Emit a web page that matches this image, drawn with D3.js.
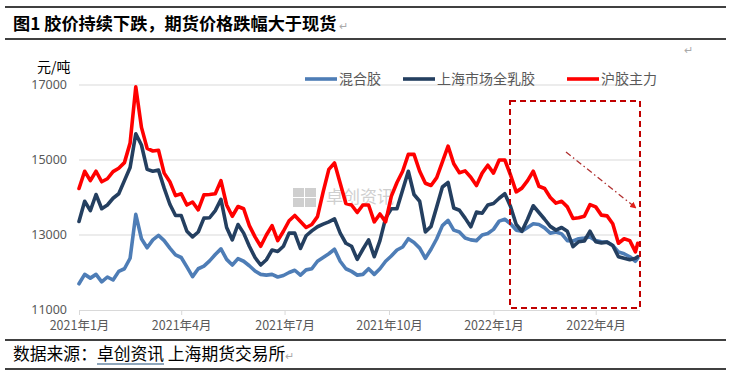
<!DOCTYPE html>
<html><head><meta charset="utf-8">
<script src="https://cdn.jsdelivr.net/npm/d3@7"></script>
<style>
html,body{margin:0;padding:0;background:#fff;}
svg{display:block;}
</style></head>
<body>
<script>
const titleText = "图1 胶价持续下跌，期货价格跌幅大于现货";
const sourceLabel = "数据来源：";
const sourceLink = "卓创资讯";
const sourceRest = " 上海期货交易所";
const unitLabel = "元/吨";
const seriesNames = ["混合胶", "上海市场全乳胶", "沪胶主力"];
const yTicks = [11000, 13000, 15000, 17000];
const xTickDates = ["2021-01-01","2021-04-01","2021-07-01","2021-10-01","2022-01-01","2022-04-01"];
const xTickLabels = ["2021年1月","2021年4月","2021年7月","2021年10月","2022年1月","2022年4月"];

const dates = [
"2021-01-01","2021-01-06","2021-01-11","2021-01-16","2021-01-21","2021-01-26","2021-01-31","2021-02-05","2021-02-10","2021-02-15",
"2021-02-20","2021-02-25","2021-03-02","2021-03-07","2021-03-12","2021-03-17","2021-03-22","2021-03-27","2021-04-01","2021-04-06",
"2021-04-11","2021-04-16","2021-04-21","2021-04-26","2021-05-01","2021-05-06","2021-05-11","2021-05-16","2021-05-21","2021-05-26",
"2021-05-31","2021-06-05","2021-06-10","2021-06-15","2021-06-20","2021-06-25","2021-06-30","2021-07-05","2021-07-10","2021-07-15",
"2021-07-20","2021-07-25","2021-07-30","2021-08-04","2021-08-09","2021-08-14","2021-08-19","2021-08-24","2021-08-29","2021-09-03",
"2021-09-08","2021-09-13","2021-09-18","2021-09-23","2021-09-28","2021-10-03","2021-10-08","2021-10-13","2021-10-18","2021-10-23",
"2021-10-28","2021-11-02","2021-11-07","2021-11-12","2021-11-17","2021-11-22","2021-11-27","2021-12-02","2021-12-07","2021-12-12",
"2021-12-17","2021-12-22","2021-12-27","2022-01-01","2022-01-06","2022-01-11","2022-01-16","2022-01-21","2022-01-26","2022-01-31",
"2022-02-05","2022-02-10","2022-02-15","2022-02-20","2022-02-25","2022-03-02","2022-03-07","2022-03-12","2022-03-17","2022-03-22",
"2022-03-27","2022-04-01","2022-04-06","2022-04-11","2022-04-16","2022-04-21","2022-04-26","2022-05-01","2022-05-06","2022-05-08"];

const mixRubber = [
11700,11950,11850,11950,11750,11880,11800,12030,12100,12380,
13550,12900,12660,12870,12990,12850,12650,12470,12400,12150,
11890,12100,12170,12310,12480,12630,12350,12200,12370,12300,
12180,12040,11950,11930,11950,11880,11920,12000,12060,11930,
12070,12100,12300,12400,12500,12620,12300,12100,12030,11930,
11950,12100,11950,12100,12300,12440,12600,12680,12900,12800,
12650,12380,12620,12900,13250,13390,13130,13080,12920,12870,
12850,13000,13040,13150,13370,13420,13300,13130,13100,13200,
13300,13280,13190,13050,13080,13030,12850,12840,12900,12920,
12950,12850,12820,12810,12720,12550,12500,12420,12300,12380];

const shWholeLatex = [
13360,13900,13650,14080,13700,13800,13980,14100,14450,14800,
15700,15400,14750,14700,14730,14250,13820,13520,13520,13100,
12950,13080,13450,13460,13650,13950,13200,12870,13280,13050,
12700,12400,12200,12340,12600,12560,12700,13050,13050,12640,
12980,13110,13220,13290,13350,13430,13050,12780,12700,12350,
12620,12870,12420,12850,13450,13700,13700,14200,14700,14080,
13900,13080,13230,13750,14280,14400,13720,13660,13450,13220,
13610,13580,13800,13840,13980,14100,13760,13280,13100,13420,
13780,13600,13420,13230,13130,13200,13100,12690,12820,12840,
13100,12820,12790,12810,12720,12420,12380,12340,12380,12420];

const shfeMain = [
14240,14700,14450,14700,14420,14500,14690,14780,14930,15450,
16950,15870,15310,15240,15260,14650,14420,14050,14100,13800,
13880,13670,14070,14080,14100,14450,13800,13500,13760,13700,
13250,12950,12700,13000,13250,12850,13100,13380,13520,13360,
13200,13280,13490,14150,14750,14920,14380,13840,13800,13600,
13800,13800,13350,13560,13350,14030,14400,14700,15150,15150,
14700,14380,14320,14530,14950,15370,14900,14660,14710,14540,
14320,14650,14860,14650,15000,15000,14600,14150,14250,14450,
14700,14300,14240,14000,13850,13900,13750,13440,13460,13500,
13810,13750,13530,13510,13300,12780,12900,12850,12550,12780];

const colors = ["#4E7DB6", "#243F60", "#FF0000"];
const W = 733, H = 375;
const parse = d3.utcParse("%Y-%m-%d");
const cjk = "'Noto Sans CJK SC', 'Noto Sans', sans-serif";
const num = "'Noto Sans', 'Liberation Sans', sans-serif";

const svg = d3.select("body").append("svg").attr("width", W).attr("height", H);

// Frame lines (document style)
[7, 39, 340, 369].forEach(yy => {
  svg.append("line").attr("x1", 5).attr("x2", 726).attr("y1", yy).attr("y2", yy)
    .attr("stroke", "#000").attr("stroke-width", 1.3);
});

// Title
svg.append("text").attr("x", 13).attr("y", 30).text(titleText)
  .attr("font-family", cjk).attr("font-weight", 700).attr("font-size", 17.2).attr("fill", "#000");
svg.append("text").attr("x", 339).attr("y", 30).text("↵")
  .attr("font-family", cjk).attr("font-size", 11).attr("fill", "#aaa");
svg.append("text").attr("x", 684).attr("y", 54).text("↵")
  .attr("font-family", cjk).attr("font-size", 11).attr("fill", "#aaa");

// Footer
const ft = svg.append("text").attr("x", 13).attr("y", 360)
  .attr("font-family", cjk).attr("font-size", 16.8).attr("fill", "#000");
ft.append("tspan").text(sourceLabel);
ft.append("tspan").text(sourceLink);
ft.append("tspan").text(sourceRest);
ft.append("tspan").text("↵").attr("font-size", 11).attr("fill", "#aaa");
svg.append("line").attr("x1", 97).attr("x2", 164).attr("y1", 364).attr("y2", 364)
  .attr("stroke", "#1F4E79").attr("stroke-width", 1);

// Scales
const x = d3.scaleUtc().domain([parse("2021-01-01"), parse("2022-05-10")]).range([79, 640]);
const y = d3.scaleLinear().domain([11000, 17000]).range([310, 85]);

// Gridlines
svg.append("g").selectAll("line").data(yTicks.slice(1)).join("line")
  .attr("x1", 79).attr("x2", 640).attr("y1", d => y(d)).attr("y2", d => y(d))
  .attr("stroke", "#D9D9D9").attr("stroke-width", 1);

// Y labels
svg.append("g").selectAll("text").data(yTicks).join("text")
  .attr("x", 67).attr("y", d => y(d) + 4).attr("text-anchor", "end")
  .attr("font-family", num).attr("font-size", 12.5).attr("fill", "#595959").text(d => d);

svg.append("text").attr("x", 37).attr("y", 72).text(unitLabel)
  .attr("font-family", cjk).attr("font-size", 14).attr("fill", "#000");

// X axis
const xAxis = d3.axisBottom(x).tickValues(xTickDates.map(parse))
  .tickFormat((d, i) => xTickLabels[i]).tickSize(5).tickPadding(6);
const gx = svg.append("g").attr("transform", "translate(0,310)").call(xAxis);
gx.select(".domain").attr("stroke", "#D9D9D9").attr("d", "M79,0.5H640");
gx.selectAll(".tick line").attr("stroke", "#D9D9D9");
gx.selectAll(".tick text").attr("font-family", cjk).attr("font-size", 12.5).attr("fill", "#595959");

// Watermark
const wm = svg.append("g").attr("opacity", 0.5);
[[293,188],[305,188],[293,198],[305,198]].forEach(([a,b]) => {
  wm.append("rect").attr("x", a).attr("y", b).attr("width", 11).attr("height", 9).attr("fill", "#a0a0a0");
});
wm.append("text").attr("x", 326).attr("y", 203).text("卓创资讯")
  .attr("font-family", cjk).attr("font-size", 17).attr("fill", "#a0a0a0");

// Lines
const seriesData = [mixRubber, shWholeLatex, shfeMain];
const line = d3.line().x(d => x(d.date)).y(d => y(d.v)).curve(d3.curveLinear);
seriesData.forEach((vals, i) => {
  const pts = vals.map((v, j) => ({date: parse(dates[j]), v}));
  svg.append("path").datum(pts).attr("d", line)
    .attr("fill", "none").attr("stroke", colors[i]).attr("stroke-width", 3.6)
    .attr("stroke-linejoin", "round").attr("stroke-linecap", "round");
});

// Legend
const legendX = [305, 403, 567];
seriesNames.forEach((name, i) => {
  const g = svg.append("g");
  g.append("line").attr("x1", legendX[i]).attr("x2", legendX[i] + 32).attr("y1", 79).attr("y2", 79)
    .attr("stroke", colors[i]).attr("stroke-width", 3.6);
  g.append("text").attr("x", legendX[i] + 34).attr("y", 84).text(name)
    .attr("font-family", cjk).attr("font-size", 14).attr("fill", "#595959");
});

// Highlight box
svg.append("rect").attr("x", 510).attr("y", 101).attr("width", 130).attr("height", 207)
  .attr("fill", "none").attr("stroke", "#C00000").attr("stroke-width", 2)
  .attr("stroke-dasharray", "6,4");

// Arrow
const defs = svg.append("defs");
defs.append("marker").attr("id", "ah").attr("viewBox", "0 0 10 10").attr("refX", 9).attr("refY", 5)
  .attr("markerWidth", 5).attr("markerHeight", 5).attr("orient", "auto")
  .append("path").attr("d", "M0,0L10,5L0,10Z").attr("fill", "#E0201A");
svg.append("line").attr("x1", 566).attr("y1", 152).attr("x2", 636).attr("y2", 208)
  .attr("stroke", "#B03030").attr("stroke-width", 1.3).attr("stroke-dasharray", "6,3,1.5,3")
  .attr("marker-end", "url(#ah)");
</script>
</body></html>
